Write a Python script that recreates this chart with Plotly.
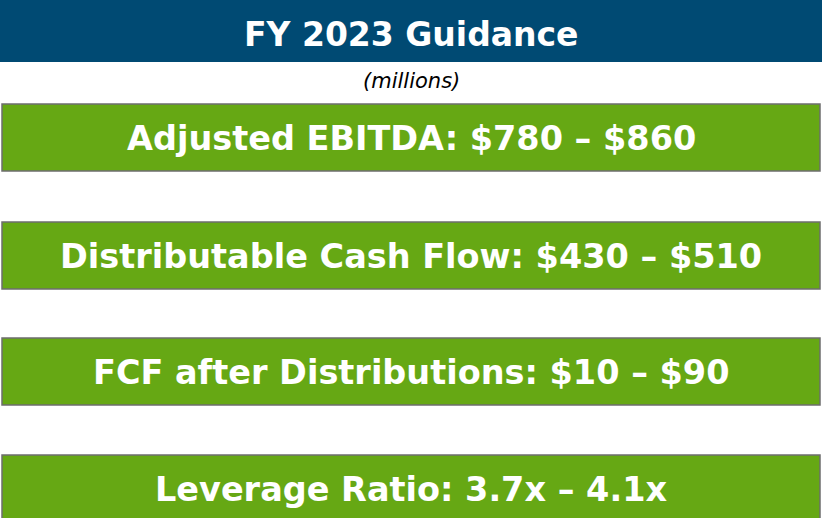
import plotly.graph_objects as go

title = "FY 2023 Guidance"
subtitle = "(millions)"
labels = ["Adjusted EBITDA: $780 \u2013 $860",
          "Distributable Cash Flow: $430 \u2013 $510",
          "FCF after Distributions: $10 \u2013 $90",
          "Leverage Ratio: 3.7x \u2013 4.1x"]
box_tops = [104, 222, 338, 455]
box_h = 67

fig = go.Figure()
shapes = [dict(type="rect", x0=0, x1=822, y0=0, y1=62, fillcolor="#004A73",
               line=dict(width=0), layer="below")]
ann = [dict(x=411, y=34, text=f"<b>{title}</b>", showarrow=False,
            font=dict(family="DejaVu Sans", size=33, color="white")),
       dict(x=411, y=81, text=f"<i>{subtitle}</i>", showarrow=False,
            font=dict(family="DejaVu Sans", size=21, color="black"))]
for t, lab in zip(box_tops, labels):
    shapes.append(dict(type="rect", x0=2, x1=820, y0=t, y1=t + box_h,
                       fillcolor="#66A814", line=dict(color="#6E6E6E", width=1.5),
                       layer="below"))
    ann.append(dict(x=411, y=t + box_h / 2 + 1, text=f"<b>{lab}</b>", showarrow=False,
                    font=dict(family="DejaVu Sans", size=33.5, color="white")))

fig.update_layout(width=822, height=518, margin=dict(l=0, r=0, t=0, b=0),
                  paper_bgcolor="white", plot_bgcolor="white",
                  xaxis=dict(range=[0, 822], visible=False, fixedrange=True),
                  yaxis=dict(range=[518, 0], visible=False, fixedrange=True),
                  shapes=shapes, annotations=ann, showlegend=False)
fig.write_html("out.html", config={"displayModeBar": False},
               post_script="document.body.style.margin='0';document.body.style.overflow='hidden';")
